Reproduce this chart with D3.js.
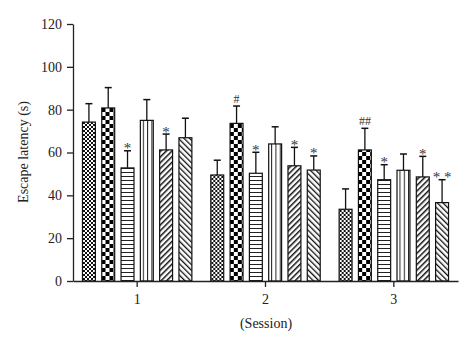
<!DOCTYPE html>
<html><head><meta charset="utf-8">
<script src="https://cdn.jsdelivr.net/npm/d3@7"></script>
<style>body{margin:0;background:#fff}svg{display:block}</style>
</head><body>
<svg id="c" width="474" height="350"></svg>
<script>
const sessions = ["1","2","3"];
const seriesNames = ["s1","s2","s3","s4","s5","s6"];
const means = [
  [74.2, 80.8, 52.8, 75.0, 61.2, 66.9],
  [49.5, 73.6, 50.3, 64.0, 53.8, 51.8],
  [33.5, 61.2, 47.3, 51.7, 48.6, 36.6]
];
const errTops = [
  [82.8, 90.3, 60.8, 84.7, 68.6, 76.0],
  [56.4, 81.7, 60.1, 72.0, 62.4, 58.4],
  [43.0, 71.3, 54.3, 59.3, 58.2, 47.3]
];
const marks = [
  ["", "", "*", "", "*", ""],
  ["", "#", "*", "", "*", "*"],
  ["", "##", "*", "", "*", "* *"]
];
const yTicks = [0,20,40,60,80,100,120];

const svg = d3.select("#c");
const defs = svg.append("defs");
const patternIds = ["p1","p2","p3","p4","p5","p6"];
let p = defs.append("pattern").attr("id","p1").attr("patternUnits","userSpaceOnUse").attr("width",4).attr("height",4);
p.append("rect").attr("width",4).attr("height",4).attr("fill","#fff");
p.append("rect").attr("width",2).attr("height",2).attr("fill","#111");
p.append("rect").attr("x",2).attr("y",2).attr("width",2).attr("height",2).attr("fill","#111");
p = defs.append("pattern").attr("id","p2").attr("patternUnits","userSpaceOnUse").attr("width",8).attr("height",8).attr("x",0.5).attr("y",0);
p.append("rect").attr("width",8).attr("height",8).attr("fill","#fff");
p.append("rect").attr("width",4).attr("height",4).attr("fill","#000");
p.append("rect").attr("x",4).attr("y",4).attr("width",4).attr("height",4).attr("fill","#000");
p = defs.append("pattern").attr("id","p3").attr("patternUnits","userSpaceOnUse").attr("width",4).attr("height",4);
p.append("rect").attr("width",4).attr("height",4).attr("fill","#fff");
p.append("rect").attr("y",0).attr("width",4).attr("height",1).attr("fill","#222");
p = defs.append("pattern").attr("id","p4").attr("patternUnits","userSpaceOnUse").attr("width",4.3).attr("height",4).attr("x",1);
p.append("rect").attr("width",4.3).attr("height",4).attr("fill","#fff");
p.append("rect").attr("x",0).attr("width",1).attr("height",4).attr("fill","#222");
p = defs.append("pattern").attr("id","p5").attr("patternUnits","userSpaceOnUse").attr("width",4).attr("height",4).attr("patternTransform","rotate(45)");
p.append("rect").attr("width",4).attr("height",4).attr("fill","#fff");
p.append("rect").attr("width",1.5).attr("height",4).attr("fill","#111");
p = defs.append("pattern").attr("id","p6").attr("patternUnits","userSpaceOnUse").attr("width",4).attr("height",4).attr("patternTransform","rotate(-45)");
p.append("rect").attr("width",4).attr("height",4).attr("fill","#fff");
p.append("rect").attr("width",1.3).attr("height",4).attr("fill","#111");

const x0 = d3.scaleBand().domain(sessions).range([73, 458]).padding(0);
const x1 = d3.scaleBand().domain(seriesNames).range([0, x0.bandwidth()]).paddingInner(0.33).paddingOuter(0.49);
const y = d3.scaleLinear().domain([0,120]).range([281, 24]);

const font = "'Liberation Serif', 'DejaVu Serif', serif";

const g = svg.append("g");
sessions.forEach((s, i) => {
  const gg = g.append("g").attr("transform", `translate(${x0(s)},0)`);
  seriesNames.forEach((n, j) => {
    const bx = x1(n), bw = x1.bandwidth();
    const cx = bx + bw/2;
    gg.append("line").attr("x1",cx).attr("x2",cx).attr("y1",y(means[i][j])).attr("y2",y(errTops[i][j])).attr("stroke","#111").attr("stroke-width",1.3);
    gg.append("line").attr("x1",cx-3.5).attr("x2",cx+3.5).attr("y1",y(errTops[i][j])).attr("y2",y(errTops[i][j])).attr("stroke","#111").attr("stroke-width",1.5);
    gg.append("rect").attr("x",bx).attr("y",y(means[i][j])).attr("width",bw).attr("height",y(0)-y(means[i][j]))
      .attr("fill",`url(#${patternIds[j]})`).attr("stroke","#111").attr("stroke-width",1.2);
    const m = marks[i][j];
    if (m) {
      const isStar = m.indexOf("*") >= 0;
      gg.append("text").attr("x",cx).attr("y", y(errTops[i][j]) + (isStar ? 2.5 : -3))
        .attr("text-anchor","middle").attr("font-family",font).attr("font-size", isStar ? 15 : 12)
        .attr("fill","#333").style("opacity",0.99).text(m);
    }
  });
});

const yAxis = svg.append("g").attr("transform","translate(73,0)")
  .call(d3.axisLeft(y).tickValues(yTicks).tickSize(6).tickSizeOuter(0).tickPadding(5));
const xAxis = svg.append("g").attr("transform","translate(0,281)")
  .call(d3.axisBottom(x0).tickSize(6).tickSizeOuter(0).tickPadding(7));
[yAxis, xAxis].forEach(a => {
  a.selectAll("path,line").attr("stroke","#222").attr("stroke-width",1.3);
  a.selectAll("text").attr("font-family",font).attr("font-size",14).attr("fill","#222");
});

svg.append("text").attr("transform","translate(28,152) rotate(-90)").attr("text-anchor","middle")
  .attr("font-family",font).attr("font-size",14).attr("fill","#222").text("Escape latency (s)");
svg.append("text").attr("x",266).attr("y",328).attr("text-anchor","middle")
  .attr("font-family",font).attr("font-size",14).attr("fill","#222").text("(Session)");
</script>
</body></html>
